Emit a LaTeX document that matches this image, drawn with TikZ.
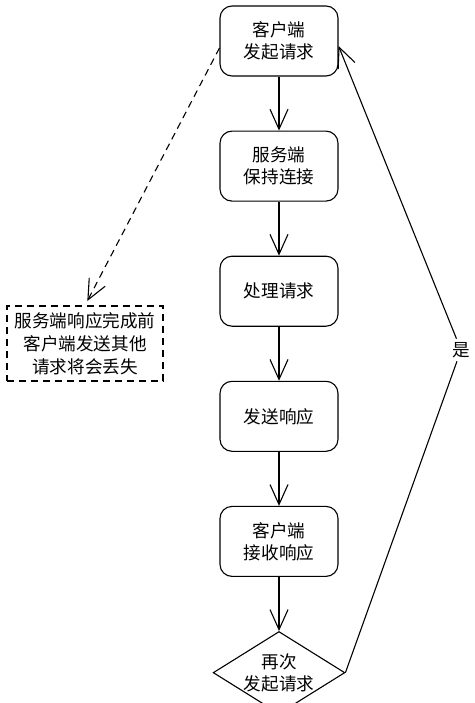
\documentclass[tikz,border=0pt]{standalone}
\usepackage{fontspec}
\setmainfont{Noto Sans CJK SC}
\usetikzlibrary{positioning}
\usetikzlibrary{shapes.geometric,arrows.meta}
\tikzset{%
  flowarrow/.style = {-{Straight Barb[length=20pt,width=18pt]},line width=1.1pt},
  dasharrow/.style = {flowarrow,dash pattern=on 7pt off 5pt},
  r/.style = {rectangle,draw,line width=1.1pt,rounded corners=12pt,
        minimum width=118pt,minimum height=70pt,align=center,
        font=\fontsize{17.6pt}{22pt}\selectfont},
  d/.style = {diamond,draw,line width=1.1pt,aspect=1.6,inner sep=0pt,
        minimum width=128pt,minimum height=80pt,align=center,
        font=\fontsize{17.6pt}{22pt}\selectfont},
  n/.style = {rectangle,draw,line width=1.1pt,dash pattern=on 7pt off 5pt,
        minimum width=156pt,minimum height=75pt,align=center,
        font=\fontsize{17.6pt}{23pt}\selectfont}
}
\begin{document}
\begin{tikzpicture}[node distance=54pt]
                \useasboundingbox (0,0) rectangle (474pt,-703pt);
                \node[r] (req) at (279pt,-41pt) {客户端\\发起请求};
                \node[r] (keep) [below=of req] {服务端\\保持连接};
                \node[r] (proc) [below=of keep] {处理请求};
                \node[r] (send) [below=of proc] {发送响应};
                \node[r] (recv) [below=of send] {客户端\\接收响应};
                \node[d] (again) [below=of recv] {再次\\发起请求};
                \node[n] (lost) at (85pt,-343.5pt) {服务端响应完成前\\客户端发送其他\\请求将会丢失};
                \node[font=\fontsize{17.6pt}{22pt}\selectfont] (yes) at (461pt,-350pt) {是};

                \path[flowarrow] (req) edge (keep)
                          (keep) edge (proc)
                          (proc) edge (send)
                          (send) edge (recv)
                          (recv) edge (again);
                \draw[line width=1.1pt] (again.east) -- (yes);
                \draw[flowarrow] (yes) -- ([yshift=-5pt]req.east);
                \draw[dasharrow,shorten >=5pt] ([yshift=-7pt]req.west) -- (lost.north);
            \end{tikzpicture}
\end{document}
